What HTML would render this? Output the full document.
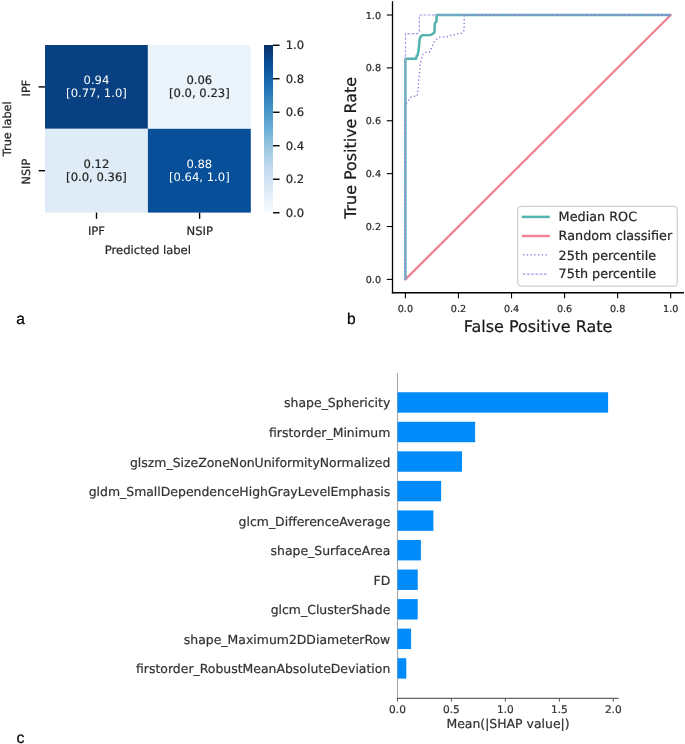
<!DOCTYPE html>
<html><head><meta charset="utf-8"><title>Figure</title>
<style>
html,body{margin:0;padding:0;background:#fff;}
body{width:685px;height:744px;overflow:hidden;}
svg{display:block;font-family:'DejaVu Sans', 'Liberation Sans', sans-serif;text-rendering:geometricPrecision;}

</style></head><body>
<svg width="685" height="744" viewBox="0 0 685 744">
<rect x="45.0" y="45.0" width="102.90" height="83.80" fill="#084082"/>
<rect x="147.9" y="45.0" width="102.90" height="83.80" fill="#ebf3fb"/>
<rect x="45.0" y="128.8" width="102.90" height="83.80" fill="#dfecf7"/>
<rect x="147.9" y="128.8" width="102.90" height="83.80" fill="#084f99"/>
<text x="96.45" y="83.80" fill="#ffffff" font-size="11.6" text-anchor="middle">0.94</text>
<text x="96.45" y="96.90" fill="#ffffff" font-size="11.6" text-anchor="middle">[0.77, 1.0]</text>
<text stroke="#262626" stroke-width="0.22" x="199.35" y="83.80" fill="#262626" font-size="11.6" text-anchor="middle">0.06</text>
<text stroke="#262626" stroke-width="0.22" x="199.35" y="96.90" fill="#262626" font-size="11.6" text-anchor="middle">[0.0, 0.23]</text>
<text stroke="#262626" stroke-width="0.22" x="96.45" y="167.60" fill="#262626" font-size="11.6" text-anchor="middle">0.12</text>
<text stroke="#262626" stroke-width="0.22" x="96.45" y="180.70" fill="#262626" font-size="11.6" text-anchor="middle">[0.0, 0.36]</text>
<text x="199.35" y="167.60" fill="#ffffff" font-size="11.6" text-anchor="middle">0.88</text>
<text x="199.35" y="180.70" fill="#ffffff" font-size="11.6" text-anchor="middle">[0.64, 1.0]</text>
<line x1="38.6" y1="86.9" x2="45" y2="86.9" stroke="#000000" stroke-width="1.4"/>
<line x1="38.6" y1="170.7" x2="45" y2="170.7" stroke="#000000" stroke-width="1.4"/>
<line x1="96.5" y1="212.6" x2="96.5" y2="218.8" stroke="#000000" stroke-width="1.4"/>
<line x1="199.6" y1="212.6" x2="199.6" y2="218.8" stroke="#000000" stroke-width="1.4"/>
<text stroke="#262626" stroke-width="0.22" x="96.45" y="234.6" fill="#262626" font-size="11.6" text-anchor="middle">IPF</text>
<text stroke="#262626" stroke-width="0.22" x="199.75" y="234.6" fill="#262626" font-size="11.6" text-anchor="middle">NSIP</text>
<text stroke="#262626" stroke-width="0.22" x="147.9" y="253.6" fill="#262626" font-size="11.6" text-anchor="middle">Predicted label</text>
<text stroke="#262626" stroke-width="0.22" transform="translate(29.8,88.1) rotate(-90)" fill="#262626" font-size="11.3" text-anchor="middle">IPF</text>
<text stroke="#262626" stroke-width="0.22" transform="translate(29.8,171.7) rotate(-90)" fill="#262626" font-size="11.3" text-anchor="middle">NSIP</text>
<text stroke="#262626" stroke-width="0.22" transform="translate(11,128.8) rotate(-90)" fill="#262626" font-size="11.3" text-anchor="middle">True label</text>
<defs><linearGradient id="cb" x1="0" y1="0" x2="0" y2="1"><stop offset="0.00" stop-color="#08306b"/><stop offset="0.05" stop-color="#083c7d"/><stop offset="0.10" stop-color="#084a91"/><stop offset="0.15" stop-color="#0d57a1"/><stop offset="0.20" stop-color="#1764ab"/><stop offset="0.25" stop-color="#2070b4"/><stop offset="0.30" stop-color="#2e7ebc"/><stop offset="0.35" stop-color="#3b8bc2"/><stop offset="0.40" stop-color="#4a98c9"/><stop offset="0.45" stop-color="#5ba3d0"/><stop offset="0.50" stop-color="#6aaed6"/><stop offset="0.55" stop-color="#7fb9da"/><stop offset="0.60" stop-color="#94c4df"/><stop offset="0.65" stop-color="#a6cee4"/><stop offset="0.70" stop-color="#b7d4ea"/><stop offset="0.75" stop-color="#c6dbef"/><stop offset="0.80" stop-color="#d0e1f2"/><stop offset="0.85" stop-color="#d9e8f5"/><stop offset="0.90" stop-color="#e3eef9"/><stop offset="0.95" stop-color="#eef5fc"/><stop offset="1.00" stop-color="#f7fbff"/></linearGradient></defs>
<rect x="264" y="45" width="9" height="167.5" fill="url(#cb)"/>
<line x1="273" y1="45.25" x2="279.6" y2="45.25" stroke="#000000" stroke-width="1.4"/>
<text stroke="#262626" stroke-width="0.22" x="285.7" y="49.35" fill="#262626" font-size="11.6">1.0</text>
<line x1="273" y1="78.75" x2="279.6" y2="78.75" stroke="#000000" stroke-width="1.4"/>
<text stroke="#262626" stroke-width="0.22" x="285.7" y="82.85" fill="#262626" font-size="11.6">0.8</text>
<line x1="273" y1="112.25" x2="279.6" y2="112.25" stroke="#000000" stroke-width="1.4"/>
<text stroke="#262626" stroke-width="0.22" x="285.7" y="116.35" fill="#262626" font-size="11.6">0.6</text>
<line x1="273" y1="145.75" x2="279.6" y2="145.75" stroke="#000000" stroke-width="1.4"/>
<text stroke="#262626" stroke-width="0.22" x="285.7" y="149.85" fill="#262626" font-size="11.6">0.4</text>
<line x1="273" y1="179.25" x2="279.6" y2="179.25" stroke="#000000" stroke-width="1.4"/>
<text stroke="#262626" stroke-width="0.22" x="285.7" y="183.35" fill="#262626" font-size="11.6">0.2</text>
<line x1="273" y1="212.75" x2="279.6" y2="212.75" stroke="#000000" stroke-width="1.4"/>
<text stroke="#262626" stroke-width="0.22" x="285.7" y="216.85" fill="#262626" font-size="11.6">0.0</text>
<line x1="392.5" y1="1.3" x2="392.5" y2="293.4" stroke="#000" stroke-width="1.3"/>
<line x1="391.85" y1="292.75" x2="684" y2="292.75" stroke="#000" stroke-width="1.3"/>
<line x1="386.8" y1="279.40" x2="392.5" y2="279.40" stroke="#000" stroke-width="1.1"/>
<text stroke="#262626" stroke-width="0.22" x="381" y="282.90" fill="#262626" font-size="9.6" text-anchor="end">0.0</text>
<line x1="405.40" y1="292.75" x2="405.40" y2="298.3" stroke="#000" stroke-width="1.1"/>
<text stroke="#262626" stroke-width="0.22" x="405.40" y="311.7" fill="#262626" font-size="9.6" text-anchor="middle">0.0</text>
<line x1="386.8" y1="226.52" x2="392.5" y2="226.52" stroke="#000" stroke-width="1.1"/>
<text stroke="#262626" stroke-width="0.22" x="381" y="230.02" fill="#262626" font-size="9.6" text-anchor="end">0.2</text>
<line x1="458.46" y1="292.75" x2="458.46" y2="298.3" stroke="#000" stroke-width="1.1"/>
<text stroke="#262626" stroke-width="0.22" x="458.46" y="311.7" fill="#262626" font-size="9.6" text-anchor="middle">0.2</text>
<line x1="386.8" y1="173.64" x2="392.5" y2="173.64" stroke="#000" stroke-width="1.1"/>
<text stroke="#262626" stroke-width="0.22" x="381" y="177.14" fill="#262626" font-size="9.6" text-anchor="end">0.4</text>
<line x1="511.52" y1="292.75" x2="511.52" y2="298.3" stroke="#000" stroke-width="1.1"/>
<text stroke="#262626" stroke-width="0.22" x="511.52" y="311.7" fill="#262626" font-size="9.6" text-anchor="middle">0.4</text>
<line x1="386.8" y1="120.76" x2="392.5" y2="120.76" stroke="#000" stroke-width="1.1"/>
<text stroke="#262626" stroke-width="0.22" x="381" y="124.26" fill="#262626" font-size="9.6" text-anchor="end">0.6</text>
<line x1="564.58" y1="292.75" x2="564.58" y2="298.3" stroke="#000" stroke-width="1.1"/>
<text stroke="#262626" stroke-width="0.22" x="564.58" y="311.7" fill="#262626" font-size="9.6" text-anchor="middle">0.6</text>
<line x1="386.8" y1="67.88" x2="392.5" y2="67.88" stroke="#000" stroke-width="1.1"/>
<text stroke="#262626" stroke-width="0.22" x="381" y="71.38" fill="#262626" font-size="9.6" text-anchor="end">0.8</text>
<line x1="617.64" y1="292.75" x2="617.64" y2="298.3" stroke="#000" stroke-width="1.1"/>
<text stroke="#262626" stroke-width="0.22" x="617.64" y="311.7" fill="#262626" font-size="9.6" text-anchor="middle">0.8</text>
<line x1="386.8" y1="15.00" x2="392.5" y2="15.00" stroke="#000" stroke-width="1.1"/>
<text stroke="#262626" stroke-width="0.22" x="381" y="18.50" fill="#262626" font-size="9.6" text-anchor="end">1.0</text>
<line x1="670.70" y1="292.75" x2="670.70" y2="298.3" stroke="#000" stroke-width="1.1"/>
<text stroke="#262626" stroke-width="0.22" x="670.70" y="311.7" fill="#262626" font-size="9.6" text-anchor="middle">1.0</text>
<text stroke="#1a1a1a" stroke-width="0.22" x="538" y="331.7" fill="#1a1a1a" font-size="16.0" text-anchor="middle">False Positive Rate</text>
<text stroke="#1a1a1a" stroke-width="0.22" transform="translate(356.1,147.95) rotate(-90)" fill="#1a1a1a" font-size="15.93" text-anchor="middle">True Positive Rate</text>
<line x1="405.4" y1="279.4" x2="670.7" y2="15" stroke="#f28498" stroke-width="2.4" stroke-linecap="round"/>
<path d="M405.4,279.4 L405.4,58.8 L416.1,58.8 L416.8,55.7 L417.8,54.8 L418.9,47.7 L419.6,39.3 L420.6,36.7 L422.2,35.3 L430.7,35.05 L432.6,33.9 L434.4,32.5 L434.8,23.5 L436.5,21.4 L436.6,15 L670.7,15" fill="none" stroke="#53b3af" stroke-width="2.5" stroke-linejoin="round"/>
<path d="M405.4,279.4 L405.4,104 L408.4,101 L410.1,97.5 L413.4,96.2 L417.1,96.2 L418.3,88 L418.5,81.6 L420.2,67.4 L420.2,63.4 L421.2,60 L422,57.1 L423.2,54.1 L425.5,52.4 L429.3,52.4 L430.7,49.9 L431.9,46.6 L433.5,43.5 L434.7,40.7 L436.8,39 L439.4,37.2 L443.3,36.9 L447.1,36.9 L449.8,35.3 L453.3,35.3 L456.3,33.8 L460.3,33.8 L463.1,32.5 L464.2,29.8 L464.2,15 L670.7,15" fill="none" stroke="#9370db" stroke-width="1.35" stroke-dasharray="1.35 2.4"/>
<path d="M405.5,279.4 L405.5,33.6 L417.7,33.6 L419.3,31.4 L419.3,15 L670.7,15" fill="none" stroke="#a596e6" stroke-width="1.1" stroke-dasharray="2.7 1.5"/>
<rect x="517.7" y="206.4" width="159.6" height="79.7" rx="3.5" fill="#fff" fill-opacity="0.8" stroke="#cfcfcf" stroke-width="1.25"/>
<line x1="521.8" y1="216.9" x2="549.7" y2="216.9" stroke="#53b3af" stroke-width="2.5"/>
<line x1="521.8" y1="236.0" x2="549.7" y2="236.0" stroke="#f28498" stroke-width="2.5"/>
<line x1="523.0" y1="254.8" x2="548.0" y2="254.8" stroke="#9370db" stroke-width="1.35" stroke-dasharray="1.35 2.4"/>
<line x1="522.8" y1="274.1" x2="547.2" y2="274.1" stroke="#a596e6" stroke-width="1.1" stroke-dasharray="2.7 1.5"/>
<text stroke="#262626" stroke-width="0.22" x="558.6" y="221.30" fill="#262626" font-size="12.8">Median ROC</text>
<text stroke="#262626" stroke-width="0.22" x="558.6" y="240.40" fill="#262626" font-size="12.8">Random classifier</text>
<text stroke="#262626" stroke-width="0.22" x="558.6" y="259.60" fill="#262626" font-size="12.8">25th percentile</text>
<text stroke="#262626" stroke-width="0.22" x="558.6" y="278.40" fill="#262626" font-size="12.8">75th percentile</text>
<line x1="397.5" y1="373" x2="397.5" y2="698.4" stroke="#a8a8a8" stroke-width="1.1"/>
<rect x="397.5" y="392.25" width="210.60" height="20.4" fill="#008bfb"/>
<text stroke="#333333" stroke-width="0.22" x="390.3" y="407.45" fill="#333333" font-size="12.45" text-anchor="end">shape_Sphericity</text>
<rect x="397.5" y="421.80" width="77.60" height="20.4" fill="#008bfb"/>
<text stroke="#333333" stroke-width="0.22" x="390.3" y="437.00" fill="#333333" font-size="12.45" text-anchor="end">firstorder_Minimum</text>
<rect x="397.5" y="451.35" width="64.50" height="20.4" fill="#008bfb"/>
<text stroke="#333333" stroke-width="0.22" x="390.3" y="466.55" fill="#333333" font-size="12.45" text-anchor="end">glszm_SizeZoneNonUniformityNormalized</text>
<rect x="397.5" y="480.90" width="43.60" height="20.4" fill="#008bfb"/>
<text stroke="#333333" stroke-width="0.22" x="390.3" y="496.10" fill="#333333" font-size="12.45" text-anchor="end">gldm_SmallDependenceHighGrayLevelEmphasis</text>
<rect x="397.5" y="510.45" width="35.90" height="20.4" fill="#008bfb"/>
<text stroke="#333333" stroke-width="0.22" x="390.3" y="525.65" fill="#333333" font-size="12.45" text-anchor="end">glcm_DifferenceAverage</text>
<rect x="397.5" y="540.00" width="23.40" height="20.4" fill="#008bfb"/>
<text stroke="#333333" stroke-width="0.22" x="390.3" y="555.20" fill="#333333" font-size="12.45" text-anchor="end">shape_SurfaceArea</text>
<rect x="397.5" y="569.55" width="20.20" height="20.4" fill="#008bfb"/>
<text stroke="#333333" stroke-width="0.22" x="390.3" y="584.75" fill="#333333" font-size="12.45" text-anchor="end">FD</text>
<rect x="397.5" y="599.10" width="20.20" height="20.4" fill="#008bfb"/>
<text stroke="#333333" stroke-width="0.22" x="390.3" y="614.30" fill="#333333" font-size="12.45" text-anchor="end">glcm_ClusterShade</text>
<rect x="397.5" y="628.65" width="13.60" height="20.4" fill="#008bfb"/>
<text stroke="#333333" stroke-width="0.22" x="390.3" y="643.85" fill="#333333" font-size="12.45" text-anchor="end">shape_Maximum2DDiameterRow</text>
<rect x="397.5" y="658.20" width="8.80" height="20.4" fill="#008bfb"/>
<text stroke="#333333" stroke-width="0.22" x="390.3" y="673.40" fill="#333333" font-size="12.45" text-anchor="end">firstorder_RobustMeanAbsoluteDeviation</text>
<line x1="396.9" y1="698.3" x2="618.6" y2="698.3" stroke="#666666" stroke-width="1.3"/>
<line x1="397.50" y1="698.3" x2="397.50" y2="701.6" stroke="#555555" stroke-width="1"/>
<text stroke="#333333" stroke-width="0.22" x="397.50" y="712.7" fill="#333333" font-size="10.55" text-anchor="middle">0.0</text>
<line x1="451.45" y1="698.3" x2="451.45" y2="701.6" stroke="#555555" stroke-width="1"/>
<text stroke="#333333" stroke-width="0.22" x="451.45" y="712.7" fill="#333333" font-size="10.55" text-anchor="middle">0.5</text>
<line x1="505.40" y1="698.3" x2="505.40" y2="701.6" stroke="#555555" stroke-width="1"/>
<text stroke="#333333" stroke-width="0.22" x="505.40" y="712.7" fill="#333333" font-size="10.55" text-anchor="middle">1.0</text>
<line x1="559.35" y1="698.3" x2="559.35" y2="701.6" stroke="#555555" stroke-width="1"/>
<text stroke="#333333" stroke-width="0.22" x="559.35" y="712.7" fill="#333333" font-size="10.55" text-anchor="middle">1.5</text>
<line x1="613.30" y1="698.3" x2="613.30" y2="701.6" stroke="#555555" stroke-width="1"/>
<text stroke="#333333" stroke-width="0.22" x="613.30" y="712.7" fill="#333333" font-size="10.55" text-anchor="middle">2.0</text>
<text stroke="#333333" stroke-width="0.22" x="508" y="728" fill="#333333" font-size="12.45" text-anchor="middle">Mean(|SHAP value|)</text>
<text stroke="#000" stroke-width="0.22" x="16.3" y="323.8" fill="#000" font-size="15.6" font-family="'Liberation Sans', Arial, sans-serif">a</text>
<text stroke="#000" stroke-width="0.22" x="347.1" y="323.8" fill="#000" font-size="15.6" font-family="'Liberation Sans', Arial, sans-serif">b</text>
<text stroke="#000" stroke-width="0.22" x="16.4" y="742.7" fill="#000" font-size="15.9" font-family="'Liberation Sans', Arial, sans-serif">c</text>
</svg>
</body></html>
